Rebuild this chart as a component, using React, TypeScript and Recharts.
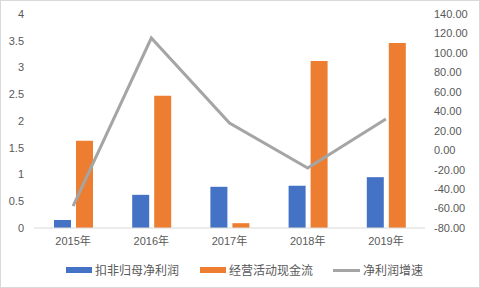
import React from 'react';
import { ComposedChart, Bar, Line, XAxis, YAxis, Legend } from 'recharts';

const years = ['2015年', '2016年', '2017年', '2018年', '2019年'];
const netProfitExcl = [0.15, 0.62, 0.77, 0.79, 0.95];
const operatingCash = [1.63, 2.47, 0.09, 3.12, 3.46];
const profitGrowth = [-57.4, 115.3, 28.0, -18.3, 32.0];
const leftTicks = [0, 0.5, 1, 1.5, 2, 2.5, 3, 3.5, 4];
const rightTicks = [-80, -60, -40, -20, 0, 20, 40, 60, 80, 100, 120, 140];

const names = { a: '扣非归母净利润', b: '经营活动现金流', c: '净利润增速' };

const data = years.map((y, i) => ({
  year: y,
  a: netProfitExcl[i],
  b: operatingCash[i],
  c: profitGrowth[i],
}));

const FONT = '"Liberation Sans", "Noto Sans CJK SC", sans-serif';
const TEXT = '#595959';

const LegendContent = () => (
  <div style={{ display: 'flex', alignItems: 'center', paddingLeft: 66, fontFamily: '"Noto Sans CJK SC", sans-serif', fontSize: 12, color: TEXT, lineHeight: '16px', height: 16 }}>
    <span style={{ display: 'inline-block', width: 26, height: 6, background: '#4472C4', marginRight: 3 }} />
    <span style={{ marginRight: 21 }}>{names.a}</span>
    <span style={{ display: 'inline-block', width: 26, height: 6, background: '#ED7D31', marginRight: 3 }} />
    <span style={{ marginRight: 20 }}>{names.b}</span>
    <span style={{ display: 'inline-block', width: 27, height: 3, background: '#A5A5A5', marginRight: 3 }} />
    <span>{names.c}</span>
  </div>
);

export default function App() {
  return (
    <div style={{ position: 'absolute', left: 0, top: 0, width: 480, height: 288, background: '#fff' }}>
      <div style={{ position: 'absolute', left: 0, top: 0, width: 480, height: 288, border: '1px solid #D9D9D9', boxSizing: 'border-box', pointerEvents: 'none', zIndex: 2 }} />
      <ComposedChart
        width={480}
        height={288}
        data={data}
        margin={{ top: 14, right: 0, bottom: 14, left: 0 }}
        barCategoryGap="25%"
        barGap={5}
      >
        <XAxis
          dataKey="year"
          height={30}
          axisLine={{ stroke: '#D9D9D9' }}
          tickLine={false}
          tickSize={6}
          tickMargin={3}
          tick={{ fill: TEXT, fontSize: 11, fontFamily: FONT }}
        />
        <YAxis
          yAxisId="left"
          orientation="left"
          width={34}
          domain={[0, 4]}
          ticks={leftTicks}
          axisLine={false}
          tickLine={false}
          tickSize={6}
          tickMargin={4}
          interval={0}
          tick={{ fill: TEXT, fontSize: 11, fontFamily: FONT }}
        />
        <YAxis
          yAxisId="right"
          orientation="right"
          width={55}
          domain={[-80, 140]}
          ticks={rightTicks}
          axisLine={false}
          tickLine={false}
          tickSize={6}
          tickMargin={3}
          interval={0}
          tickFormatter={(v: number) => v.toFixed(2)}
          tick={{ fill: TEXT, fontSize: 11, fontFamily: FONT }}
        />
        <Legend
          content={<LegendContent />}
          wrapperStyle={{ position: 'absolute', top: 262, left: 0, width: 480, height: 16 }}
        />
        <Bar yAxisId="left" dataKey="a" name={names.a} fill="#4472C4" barSize={17} isAnimationActive={false} />
        <Bar yAxisId="left" dataKey="b" name={names.b} fill="#ED7D31" barSize={17} isAnimationActive={false} />
        <Line yAxisId="right" dataKey="c" name={names.c} type="linear" stroke="#A5A5A5" strokeWidth={3} dot={false} activeDot={false} isAnimationActive={false} />
      </ComposedChart>
    </div>
  );
}
